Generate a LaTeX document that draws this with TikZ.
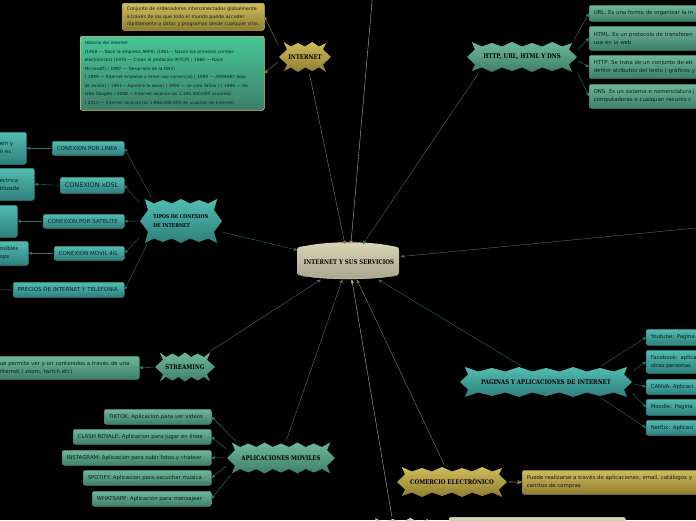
\documentclass[tikz,border=0pt]{standalone}
\usepackage{fontspec}
\setmainfont{DejaVu Sans}
\newfontfamily\headfont[FakeStretch=0.85]{DejaVu Serif}
\usetikzlibrary{arrows}
\definecolor{tealtop}{HTML}{52BDB2}
\definecolor{tealbot}{HTML}{2E7F7C}
\definecolor{greentop}{HTML}{6FB89A}
\definecolor{greenbot}{HTML}{3D7F69}
\definecolor{goldtop}{HTML}{CFBC5C}
\definecolor{goldbot}{HTML}{8F7E30}
\definecolor{inktext}{HTML}{10201F}
\definecolor{linkteal}{HTML}{2B6F6C}
\definecolor{linkgreen}{HTML}{3C7A66}
\definecolor{linkgold}{HTML}{8F8238}
\definecolor{linkgrey}{HTML}{B5B39C}
\definecolor{creamtop}{HTML}{DAD6B6}
\definecolor{creambot}{HTML}{A8A58E}
\tikzset{
  card/.style={shape=rectangle,rounded corners=2pt,inner xsep=4.5pt,inner ysep=0pt,anchor=north west,
    align=left,text=inktext,line width=0.5pt,font=\fontsize{5.4}{8}\selectfont},
  capsfont/.style={font=\fontsize{5.5}{8}\selectfont},
  tealcard/.style={card,top color=tealtop,bottom color=tealbot,draw=tealtop!70!black},
  greencard/.style={card,top color=greentop,bottom color=greenbot,draw=greentop!70!black},
  goldcard/.style={card,top color=goldtop,bottom color=goldbot,draw=goldtop!70!black},
  bursttext/.style={shape=rectangle,inner sep=0pt,align=left,text=black,
    font=\headfont\bfseries\fontsize{6.4}{9}\selectfont},
  dim/.style={text width=#1-9pt},
  tall/.style={minimum height=#1}
}
% #1 x, #2 y, #3 half width, #4 half height, #5 teeth, #6 colour name
\newcommand{\burstshade}[6]{
  \pgfmathsetmacro{\stepx}{(2*#3-9.6)/#5}
  \shade[-,shorten <=0pt,top color=#6top,bottom color=#6bot]
    ({#1-#3},{#2}) -- ({#1-#3+8},{#2-0.5*#4}) -- ({#1-#3+4.8},{#2-#4})
    \foreach \i in {1,...,#5} {
      -- ({#1-#3+4.8+(\i-0.5)*\stepx},{#2-#4+4.5}) -- ({#1-#3+4.8+\i*\stepx},{#2-#4+mod(\i,2)})
    }
    -- ({#1+#3-8},{#2-0.5*#4}) -- ({#1+#3},{#2}) -- ({#1+#3-8},{#2+0.5*#4}) -- ({#1+#3-4.8},{#2+#4})
    \foreach \i in {1,...,#5} {
      -- ({#1+#3-4.8-(\i-0.5)*\stepx},{#2+#4-4.5}) -- ({#1+#3-4.8-\i*\stepx},{#2+#4-mod(\i,2)})
    }
    -- ({#1-#3+8},{#2+0.5*#4}) -- cycle;
}
\begin{document}
\begin{tikzpicture}[->,>=stealth',x=1pt,y=-1pt,line width=0.4pt,shorten <=1pt]

  \path[use as bounding box,fill=black] (0,0) rectangle (696,520);

  \shade[top color=creamtop,bottom color=creambot,draw=none]
    (297,251) .. controls (297,247) and (298,247) .. (305,246) .. controls (330,241) and (368,241) .. (392,246)
    .. controls (398,247) and (399,247) .. (399,251) -- (399,273) .. controls (399,275) and (398,275) .. (392,276)
    .. controls (368,280) and (330,280) .. (305,276) .. controls (298,275) and (297,275) .. (297,273) -- cycle;
  \draw[-,creamtop,line width=0.4pt] (300,275.5) .. controls (330,280) and (368,280) .. (397,275.5);
  \node[font=\headfont\bfseries\fontsize{6.4}{7}\selectfont,minimum width=103pt,minimum height=35pt,inner sep=0pt] (core) at (349,262) {INTERNET Y SUS SERVICIOS};

  \burstshade{305}{57}{26}{15}{3}{gold}
  \burstshade{522}{57}{55}{15}{5}{green}
  \burstshade{181}{221}{41}{22}{4}{teal}
  \burstshade{185}{367}{30}{14.5}{4}{green}
  \burstshade{281}{458}{54}{15.5}{6}{green}
  \burstshade{546}{382}{86}{15}{6}{teal}
  \burstshade{452}{482}{55}{15}{5}{gold}
  \burstshade{401.5}{536}{31.3}{18}{3}{cream}

  \node[bursttext,minimum width=52pt,minimum height=31pt] (internet) at (305,57) {INTERNET};
  \node[bursttext,minimum width=110pt,minimum height=31pt] (http) at (522,57) {HTTP, URL, HTML Y DNS};
  \node[bursttext,minimum width=82pt,minimum height=45pt,font=\headfont\bfseries\fontsize{5.3}{9}\selectfont] (tipos) at (181,221) {TIPOS DE CONEXION\\DE INTERNET};
  \node[bursttext,minimum width=60pt,minimum height=30pt] (streaming) at (185,367) {STREAMING};
  \node[bursttext,minimum width=108pt,minimum height=32pt] (moviles) at (281,458) {APLICACIONES MOVILES};
  \node[bursttext,minimum width=172pt,minimum height=31pt] (paginas) at (546,382) {PAGINAS Y APLICACIONES  DE INTERNET};
  \node[bursttext,minimum width=110pt,minimum height=31pt] (comercio) at (452,482) {COMERCIO ELECTRÓNICO};
  \node[bursttext,minimum width=62pt,minimum height=37pt] (extra) at (401.5,536) {};

  \node[goldcard,dim=142pt,tall=27pt,draw=goldtop,font=\fontsize{4.7}{7.2}\selectfont] (redes) at (122,3) {Conjunto de ordenadores  interconectados globalmente\\a través de los que todo el mundo puede acceder\\rápidamente a datos y programas desde cualquier sitio.};
  \node[greencard,top color=tealtop!85!green,dim=184pt,tall=74pt,draw=goldtop!80!white,font=\fontsize{4.3}{8.5}\selectfont] (historia) at (80,36) {Historia del internet\\(1958 --- Nace la empresa ARPA)   (1961--- Nacen los primeros correos\\electrónicos)  (1974 --- Crean el protocolo IP/TCP)         ( 1980 --- Nace\\Microsoft)  ( 1987 --- Desarrollo de la DNS)\\( 1989 --- Internet empieza a tener uso comercial)  ( 1990 --- ARPANET deja\\de existir)  ( 1991--- Aparece la www)  ( 1994 --- se crea Yahoo )  ( 1998 --- Se\\crea Google)  ( 2008 --- Internet alcanza los 1.100.000.000 usuarios)\\( 2010 --- Internet alcanza los 1.966.000.000 de usuarios de internet)};

  \node[tealcard,capsfont,dim=72pt,tall=14pt] (linea) at (52,141) {CONEXION POR LINEA};
  \node[tealcard,dim=64pt,tall=16pt,font=\fontsize{6.5}{8}\selectfont] (xdsl) at (60,177) {CONEXION xDSL};
  \node[tealcard,capsfont,dim=81pt,tall=14pt] (satelite) at (43,214) {CONEXION POR SATELITE};
  \node[tealcard,capsfont,dim=70pt,tall=14pt] (movil) at (54,246) {CONEXION MOVIL 4G};
  \node[tealcard,capsfont,dim=111pt,tall=15pt] (precios) at (13,282) {PRECIOS DE INTERNET Y TELEFONIA};
  \coordinate (preciosend) at (-4,290);

  \node[tealcard,dim=31pt,tall=32pt] (lineatext) at (-5,132) {em y\\n es};
  \node[tealcard,dim=39pt,tall=32pt] (xdsltext) at (-5,168) {éctrica\\tilizada};
  \node[tealcard,dim=22pt,tall=32pt] (satelitetext) at (-5,205) {};
  \node[tealcard,dim=33pt,tall=24pt] (moviltext) at (-5,241) {osibles\\ops};

  \node[greencard,dim=144pt,tall=23pt] (streamtext) at (-5,356) {ue permite ver y oir contenidos a través de una\\nternet ( zoom, twitch etc)};

  \node[greencard,dim=107pt,tall=15pt] (tiktok) at (104,409) {TIKTOK: Aplicacion para ver videos};
  \node[greencard,dim=138pt,tall=15pt] (clash) at (73,429) {CLASH ROYALE: Aplicacion para jugar en linea};
  \node[greencard,dim=149pt,tall=15pt] (instagram) at (62,450) {INSTAGRAM: Aplicacion para subir fotos y chatear};
  \node[greencard,dim=128pt,tall=15pt] (spotify) at (83,470) {SPOTIFY: Aplicacion para escuchar musica};
  \node[greencard,dim=119pt,tall=15pt] (whatsapp) at (92,491) {WHATSAPP: Aplicación para mensajear};

  \node[greencard,dim=120pt,tall=16pt] (url) at (589,5) {URL: Es una forma de organizar la in};
  \node[greencard,dim=120pt,tall=24pt] (html) at (589,26) {HTML: Es un protocolo de transferen\\usa en la web};
  \node[greencard,dim=120pt,tall=23pt] (httptext) at (589,55) {HTTP: Se trata de un conjunto de eti\\definir atributos del texto ( gráficos y};
  \node[greencard,dim=120pt,tall=24pt] (dns) at (589,84) {DNS: Es un sistema e nomenclatura j\\computadoras o cualquier recurso c};

  \node[tealcard,dim=70pt,tall=16pt] (youtube) at (646,329) {Youtube: Pagina};
  \node[tealcard,dim=70pt,tall=23pt] (facebook) at (646,350) {Facebook: aplica\\otras personas};
  \node[tealcard,dim=70pt,tall=15pt] (canva) at (646,379) {CANVA: Aplicaci};
  \node[tealcard,dim=70pt,tall=16pt] (moodle) at (646,399) {Moodle: Pagina};
  \node[tealcard,dim=70pt,tall=15pt] (netflix) at (646,420) {Netflix: Aplicaci};

  \node[goldcard,dim=190pt,tall=24pt] (puede) at (522,470) {Puede realizarse a través de aplicaciones, email, catálogos y\\carritos de compras};
  \node[card,top color=creamtop,bottom color=creambot,draw=creamtop,dim=176pt,tall=20pt] (cream) at (449,517) {};

  \coordinate (topend) at (372.5,-4);
  \coordinate (rightend) at (700,227.6);

  \path[linkgold] (internet.-75) edge (core.103)
        (internet.158) edge (redes.east)
        (internet.189) edge (historia.east)
        (comercio.114) edge (core.294);
  \path[linkgold,line width=0.7pt] (comercio.east) edge (puede.west);
  \path[linkgrey] (topend) edge (core.84)
        (extra.117) edge (core.279.5);
  \path[linkgreen] (http.200) edge (core.52)
        (http.17) edge (url.west)
        (http.7) edge (html.west)
        (http.-4) edge (httptext.west)
        (http.-15) edge (dns.west)
        (rightend) edge (core.6)
        (streaming.32) edge (core.212)
        (streaming.west) edge (streamtext.east)
        (moviles.73) edge (core.249)
        (moviles.160) edge (tiktok.east)
        (moviles.171) edge (clash.east)
        (moviles.west) edge (instagram.east)
        (moviles.188) edge (spotify.east)
        (moviles.198) edge (whatsapp.east);
  \path[linkteal] (tipos.-15) edge (core.167)
        (tipos.142) edge (linea.east)
        (tipos.157) edge (xdsl.east)
        (tipos.west) edge (satelite.east)
        (tipos.201) edge (movil.east)
        (tipos.214) edge (precios.east)
        (linea.west) edge (lineatext.east)
        (xdsl.west) edge (xdsltext.east)
        (satelite.west) edge (satelitetext.east)
        (movil.west) edge (moviltext.east)
        (precios.west) edge (preciosend)
        (paginas.147) edge (core.329)
        (paginas.16) edge (youtube.west)
        (paginas.7) edge (facebook.west)
        (paginas.-1) edge (canva.west)
        (paginas.-7) edge (moodle.west)
        (paginas.-16) edge (netflix.west);
\end{tikzpicture}
\end{document}
